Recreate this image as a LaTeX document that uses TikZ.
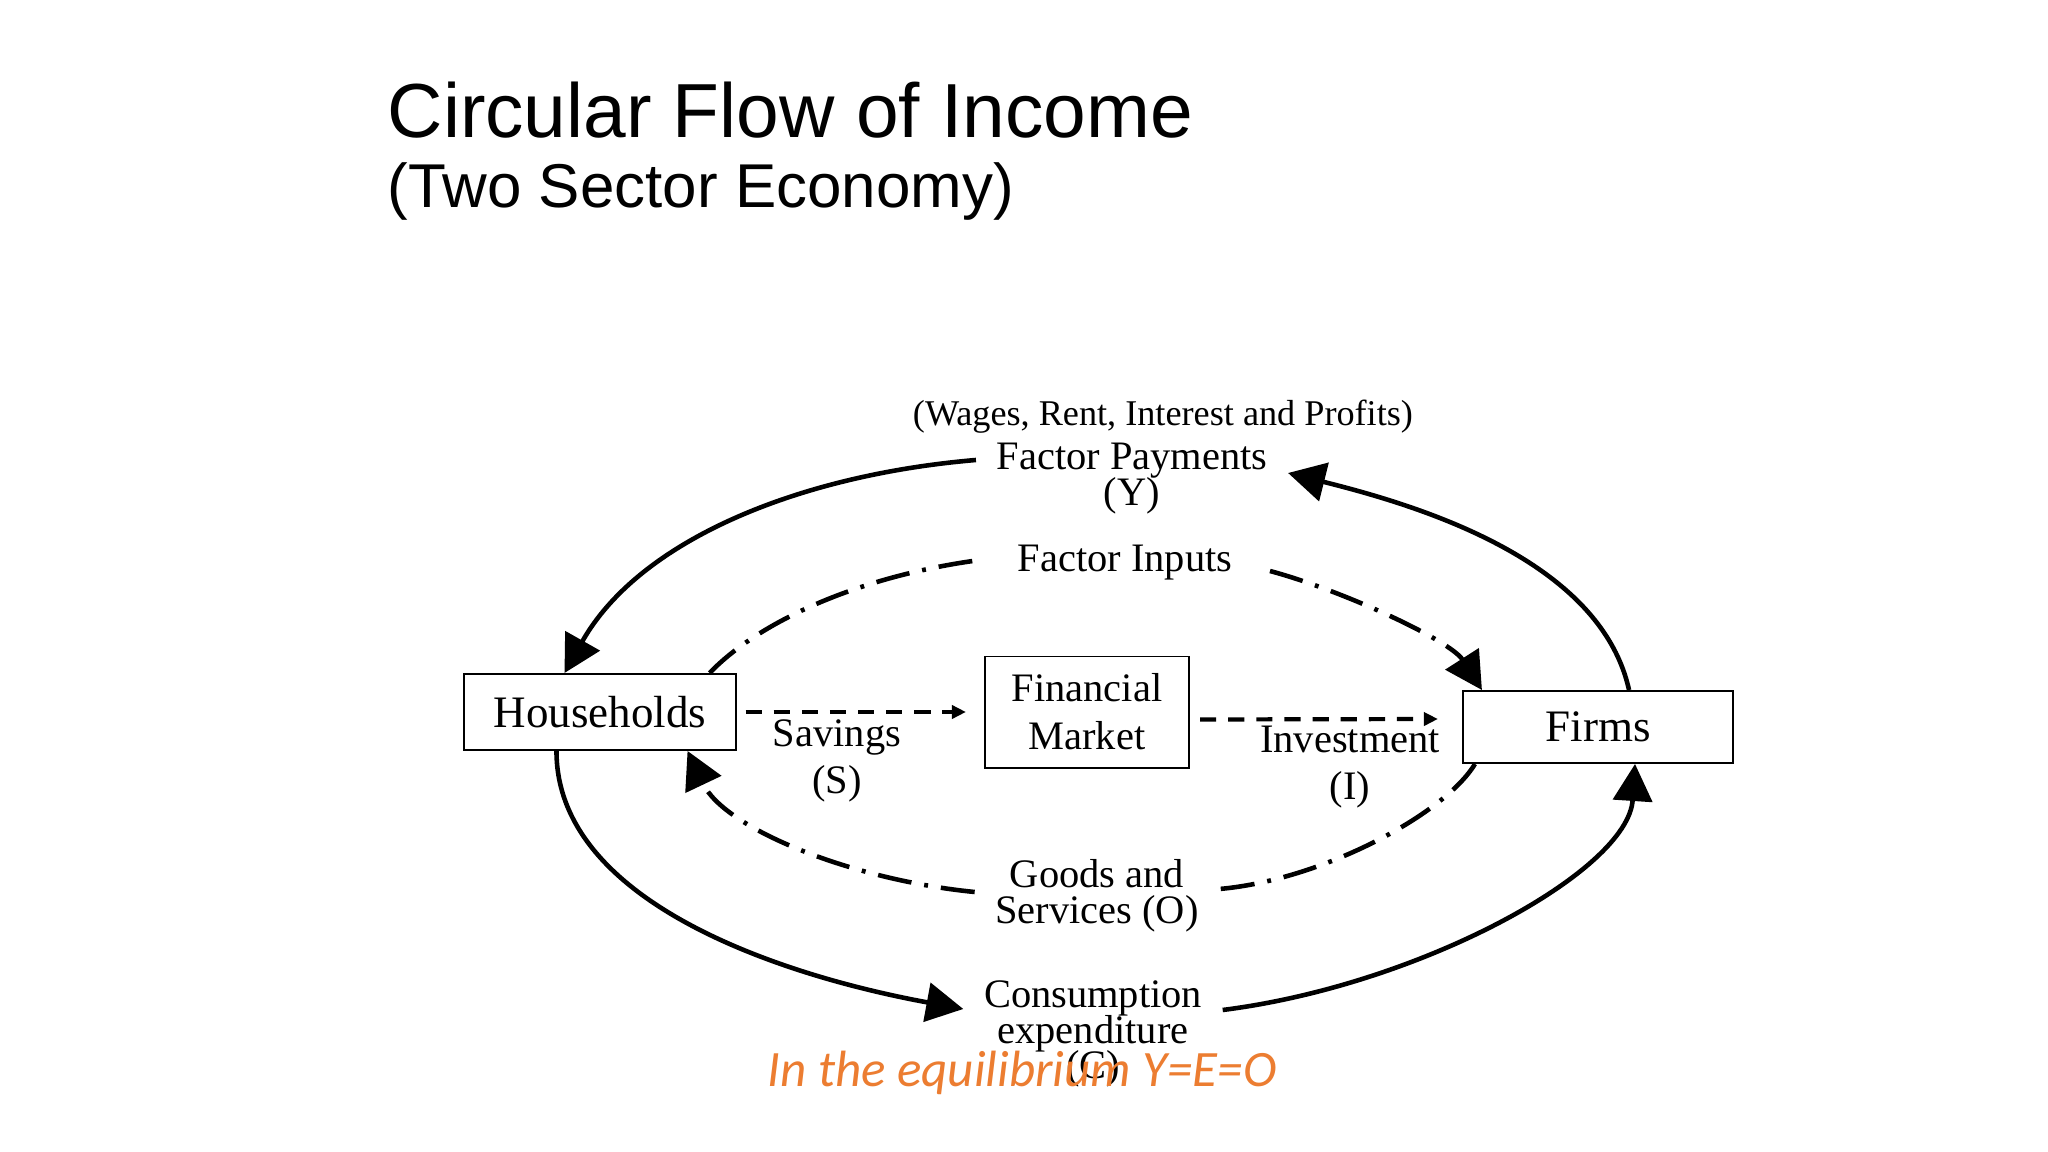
\documentclass[tikz,border=0pt]{standalone}
\usepackage{fontspec}
\setmainfont{Liberation Serif}
\newfontfamily\headfont{Liberation Sans}
\newfontfamily\notefont{Carlito}
\usetikzlibrary{positioning, arrows.meta}
\definecolor{noteorange}{RGB}{236,125,49}
\newcommand{\flowarrow}{-{Triangle[length=3.7mm,width=3.9mm]}}
\newcommand{\thinarrow}{-{Triangle[length=1.4mm,width=1.3mm]}}
\newcommand{\flowfont}{\fontsize{11.5}{10.2}\selectfont\lineskiplimit=-\maxdimen}
\newcommand{\pairfont}{\fontsize{11.5}{13.6}\selectfont\lineskiplimit=-\maxdimen}
\tikzset{
  sector/.style={draw, line width=0.55pt, inner sep=0pt, align=center},
  flowtext/.style={inner ysep=0pt, inner xsep=0.2cm, align=center, font=\flowfont},
  solidflow/.style={line width=1.3pt},
  realflow/.style={line width=1.3pt, dash pattern=on 9.7pt off 3.7pt on 1.1pt off 3.7pt},
  moneyflow/.style={line width=1.2pt, dash pattern=on 4.6pt off 3.4pt}
}

\begin{document}
\begin{tikzpicture}[x=0.01cm, y=-0.01cm]
            \path[use as bounding box, fill=white] (0,0) rectangle (2048,1152);
            \node[anchor=base west, inner sep=0pt, font=\headfont\fontsize{21.8}{26}\selectfont] (title) at (387,138) {Circular Flow of Income};
            \node[anchor=base west, inner sep=0pt, font=\headfont\fontsize{17.6}{21}\selectfont] (subtitle) at (387,208) {(Two Sector Economy)};
            \node[sector, minimum width=2.71cm, minimum height=0.76cm, font=\fontsize{12.8}{15}\selectfont] (hh) at (600,712) {Households};
            \node[sector, minimum width=2.04cm, minimum height=1.11cm, font=\pairfont] (fin) at (1087,712) {Financial\\Market};
            \node[sector, minimum width=2.70cm, minimum height=0.72cm, font=\fontsize{12.8}{15}\selectfont] (firms) at (1598,727) {Firms};
            \node[flowtext, font=\fontsize{10.3}{12}\selectfont] (wages) at (1163,417) {(Wages, Rent, Interest and Profits)};
            \node[flowtext] (fp) at (1132,479) {Factor Payments\\(Y)};
            \node[flowtext, inner xsep=0.37cm] (fi) at (1125,563) {Factor Inputs};
            \node[flowtext, font=\pairfont] (sav) at (837,761) {Savings\\(S)};
            \node[flowtext, font=\pairfont] (inv) at (1350,767) {Investment\\(I)};
            \node[flowtext] (goods) at (1097,896) {Goods and\\Services (O)};
            \node[flowtext] (cons) at (1093,1034) {Consumption\\expenditure\\(C)};
            \draw[solidflow, \flowarrow] ([yshift=0.19cm]fp.west) .. controls +(-177,15) and +(75,-133) .. ([xshift=-0.355cm]hh.north);
            \draw[solidflow, \flowarrow] ([xshift=0.31cm]firms.north) .. controls +(-29,-131) and +(128,32) .. ([yshift=0.06cm]fp.east);
            \draw[solidflow, \flowarrow] ([xshift=-0.435cm]hh.south) .. controls +(0,150) and +(-185,-34) .. ([yshift=0.25cm]cons.west);
            \draw[solidflow, \flowarrow] ([yshift=0.24cm]cons.east) .. controls +(198,-25) and +(-7,107) .. ([xshift=0.37cm]firms.south);
            \draw[realflow] ([xshift=1.095cm]hh.north) .. controls +(50,-52) and +(-120,16) .. ([yshift=0.03cm]fi.west);
            \draw[realflow, \flowarrow] ([yshift=-0.08cm]fi.east) .. controls +(71,19) and +(-32,-50) .. ([xshift=-1.16cm]firms.north);
            \draw[realflow] ([xshift=-1.23cm]firms.south) .. controls +(-30,50) and +(103,-9) .. ([yshift=0.07cm]goods.east);
            \draw[realflow, \flowarrow] ([yshift=0.04cm]goods.west) .. controls +(-122,-12) and +(37,78) .. ([xshift=0.875cm]hh.south);
            \draw[moneyflow, \thinarrow] ([xshift=0.09cm]hh.east) -- ([xshift=-0.18cm]fin.west);
            \draw[moneyflow, \thinarrow] ([xshift=0.1cm, yshift=-0.075cm]fin.east) -- ([xshift=-0.24cm, yshift=0.08cm]firms.west);
            \node[anchor=base, inner sep=0pt, text=noteorange, font=\notefont\itshape\fontsize{14.5}{17}\selectfont] (note) at (1022,1086) {In the equilibrium Y=E=O};
\end{tikzpicture}
\end{document}
